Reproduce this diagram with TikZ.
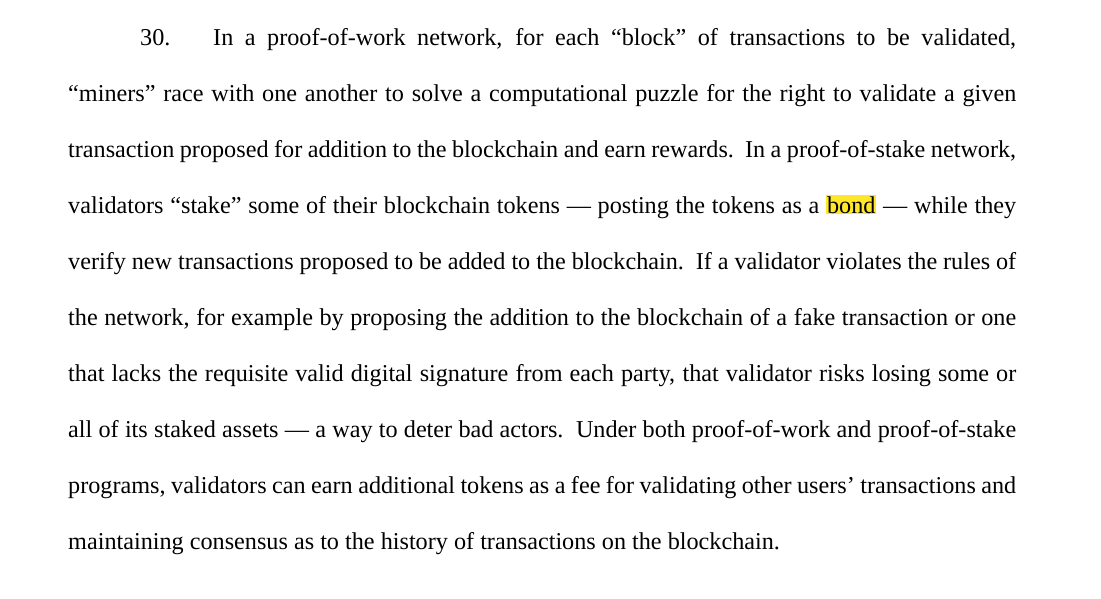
\documentclass[tikz,border=0pt]{standalone}
\usepackage{fontspec}
\setmainfont{Liberation Serif}
\definecolor{hl}{RGB}{255,230,40}
\newcommand{\jline}[1]{\makebox[948pt][s]{#1}}
\begin{document}
\begin{tikzpicture}[x=1pt,y=-1pt,line/.style={anchor=base west,inner sep=0pt,font=\fontsize{24.2}{29}\selectfont}]
\useasboundingbox[fill=white] (0,0) rectangle (1101,598);
\node[line] (n0) at (140,45) {30.};
\node[line] (l1) at (213,45) {\makebox[803pt][s]{In a proof-of-work network, for each “block” of transactions to be validated,}};
\node[line] (l2) at (68,101) {\jline{“miners” race with one another to solve a computational puzzle for the right to validate a given}};
\node[line] (l3) at (68,157) {\jline{transaction proposed for addition to the blockchain and earn rewards.\ \ In a proof-of-stake network,}};
\node[line] (l4) at (68,213) {\jline{validators “stake” some of their blockchain tokens — posting the tokens as a {\fboxsep=1pt\colorbox{hl}{bond}} — while they}};
\node[line] (l5) at (68,269) {\jline{verify new transactions proposed to be added to the blockchain.\ \ If a validator violates the rules of}};
\node[line] (l6) at (68,325) {\jline{the network, for example by proposing the addition to the blockchain of a fake transaction or one}};
\node[line] (l7) at (68,381) {\jline{that lacks the requisite valid digital signature from each party, that validator risks losing some or}};
\node[line] (l8) at (68,437) {\jline{all of its staked assets — a way to deter bad actors.\ \ Under both proof-of-work and proof-of-stake}};
\node[line] (l9) at (68,493) {\jline{programs, validators can earn additional tokens as a fee for validating other users’ transactions and}};
\node[line] (l10) at (68,549) {maintaining consensus as to the history of transactions on the blockchain.};
\end{tikzpicture}
\end{document}
